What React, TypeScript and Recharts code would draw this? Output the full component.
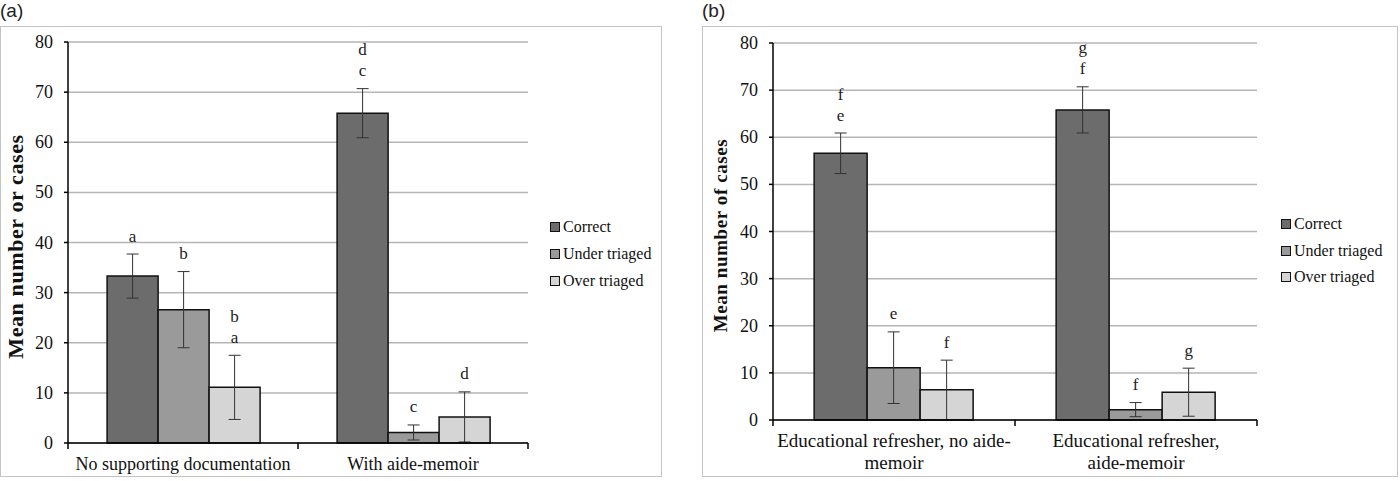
import { BarChart, Bar, XAxis, YAxis, CartesianGrid, ErrorBar, LabelList, Legend, Label } from 'recharts'

const SERIF = '"Liberation Serif", "Times New Roman", serif'
const SANS = '"Liberation Sans", Arial, sans-serif'

// panel (a)
const categoriesA = ['No supporting documentation', 'With aide-memoir']
const correctA = [33.3, 65.8]
const correctErrA = [4.4, 4.9]
const underA = [26.6, 2.1]
const underErrA = [7.6, 1.5]
const overA = [11.1, 5.2]
const overErrA = [6.4, 5.0]
const correctLettersA = ['a', 'c d']
const underLettersA = ['b', 'c']
const overLettersA = ['a b', 'd']

// panel (b)
const categoriesB = ['Educational refresher, no aide-\nmemoir', 'Educational refresher,\naide-memoir']
const correctB = [56.6, 65.8]
const correctErrB = [4.3, 4.9]
const underB = [11.1, 2.2]
const underErrB = [7.6, 1.5]
const overB = [6.4, 5.9]
const overErrB = [6.3, 5.1]
const correctLettersB = ['e f', 'f g']
const underLettersB = ['e', 'f']
const overLettersB = ['f', 'g']

const yTicks = [0, 10, 20, 30, 40, 50, 60, 70, 80]

const SERIES = [
  { key: 'correct', name: 'Correct', color: '#6c6c6c' },
  { key: 'under', name: 'Under triaged', color: '#9a9a9a' },
  { key: 'over', name: 'Over triaged', color: '#d5d5d5' },
]

const dataA = categoriesA.map((name, i) => ({
  name,
  correct: correctA[i], correctErr: correctErrA[i],
  under: underA[i], underErr: underErrA[i],
  over: overA[i], overErr: overErrA[i],
}))

const dataB = categoriesB.map((name, i) => ({
  name,
  correct: correctB[i], correctErr: correctErrB[i],
  under: underB[i], underErr: underErrB[i],
  over: overB[i], overErr: overErrB[i],
}))

// significance letters stacked above the error bar
function letterContent(letters: string[], errs: number[]) {
  return (props: any) => {
    const vb = props.viewBox && props.viewBox.width != null ? props.viewBox : props
    const { x, y, width, height } = vb
    const idx = props.index
    const value = Number(props.value)
    if (!value || !height) return null
    const ppu = height / value
    const errTop = y - errs[idx] * ppu
    const stack = (letters[idx] || '').split(' ').filter(Boolean)
    return (
      <g>
        {stack.map((ch, i) => (
          <text key={i} x={x + width / 2} y={errTop - 12.5 - i * 21} textAnchor="middle"
            fontFamily={SERIF} fontSize={17} fill="#222">{ch}</text>
        ))}
      </g>
    )
  }
}

function CategoryTick(props: any) {
  const { x, y, payload, index, fontSize } = props
  const lines = String(payload.value).split('\n')
  const half = payload.offset ?? 0
  return (
    <g>
      <line x1={x + half} x2={x + half} y1={y - 6} y2={y} stroke="#000" strokeWidth={1.5} />
      {index === 0 && <line x1={x - half} x2={x - half} y1={y - 6} y2={y} stroke="#000" strokeWidth={1.5} />}
      {lines.map((l, i) => (
        <text key={i} x={x} y={y + 21 + i * 22} textAnchor="middle" fontFamily={SERIF} fontSize={fontSize} fill="#111">{l}</text>
      ))}
    </g>
  )
}

function ValueTick(props: any) {
  const { x, y, payload } = props
  return (
    <text x={x} y={y + 6} textAnchor="end" fontFamily={SERIF} fontSize={18} fill="#111">{payload.value}</text>
  )
}

function LegendBox() {
  return (
    <div style={{ fontFamily: SERIF, fontSize: 16, color: '#111' }}>
      {SERIES.map((s) => (
        <div key={s.key} style={{ display: 'flex', alignItems: 'center', height: 26.7, whiteSpace: 'nowrap' }}>
          <span style={{ display: 'inline-block', width: 8, height: 8, background: s.color, border: '1px solid #111', marginRight: 3 }} />
          {s.name}
        </div>
      ))}
    </div>
  )
}

interface PanelProps {
  data: any[]
  width: number
  margin: { top: number; right: number; bottom: number; left: number }
  xAxisHeight: number
  xFontSize: number
  yLabel: string
  yLabelSize: number
  legendPos: { left: number; top: number }
  letters: string[][]
  errs: number[][]
}

function TriagePanel({ data, width, margin, xAxisHeight, xFontSize, yLabel, yLabelSize, legendPos, letters, errs }: PanelProps) {
  return (
    <BarChart width={width} height={481} data={data} margin={margin} barCategoryGap="17%" barGap={0}>
      <CartesianGrid vertical={false} stroke="#b5b5b5" strokeWidth={1.5} />
      <XAxis dataKey="name" height={xAxisHeight} axisLine={{ stroke: '#000', strokeWidth: 1.5 }}
        tickLine={false} tickSize={6} tickMargin={0} tick={<CategoryTick fontSize={xFontSize} />} interval={0} />
      <YAxis width={40} domain={[0, 80]} ticks={yTicks} interval={0}
        axisLine={{ stroke: '#000', strokeWidth: 1.5 }} tickLine={{ stroke: '#000', strokeWidth: 1.5 }}
        tickSize={4} tickMargin={11} tick={<ValueTick />}>
        <Label content={(p: any) => {
          const vb = p.viewBox
          const cx = vb.x - 13
          const cy = vb.y + vb.height / 2 + 4
          return (
            <text x={cx} y={cy} transform={`rotate(-90 ${cx} ${cy})`} textAnchor="middle" dominantBaseline="central"
              fontFamily={SERIF} fontWeight="bold" fontSize={yLabelSize} letterSpacing={0.6} fill="#111">{yLabel}</text>
          )
        }} />
      </YAxis>
      <Legend layout="vertical" align="center" verticalAlign="middle" content={<LegendBox />}
        wrapperStyle={{ left: legendPos.left, top: legendPos.top, width: 130 }} />
      {SERIES.map((s, si) => (
        <Bar key={s.key} dataKey={s.key} name={s.name} fill={s.color} stroke="#111" strokeWidth={1.5} isAnimationActive={false}>
          <ErrorBar dataKey={`${s.key}Err`} width={6} stroke="#333" strokeWidth={1} direction="y" />
          <LabelList dataKey={s.key} content={letterContent(letters[si], errs[si])} />
        </Bar>
      ))}
    </BarChart>
  )
}

export default function App() {
  return (
    <div style={{ position: 'absolute', left: 0, top: 0, width: 1400, height: 481, background: '#fff', overflow: 'hidden' }}>
      <div style={{ position: 'absolute', left: 0, top: 0, fontFamily: SANS, fontSize: 19, color: '#222' }}>(a)</div>
      <div style={{ position: 'absolute', left: 702, top: 0, fontFamily: SANS, fontSize: 19, color: '#222' }}>(b)</div>
      <div style={{ position: 'absolute', left: 0, top: 26, width: 660, height: 449, border: '1.5px solid #c4c4c4' }} />
      <div style={{ position: 'absolute', left: 702, top: 26, width: 694, height: 449, border: '1.5px solid #c4c4c4' }} />
      <div style={{ position: 'absolute', left: 0, top: 0 }}>
        <TriagePanel
          data={dataA}
          width={663}
          margin={{ top: 42, right: 135, bottom: 8, left: 28 }}
          xAxisHeight={30}
          xFontSize={18}
          yLabel="Mean number  or cases"
          yLabelSize={22}
          legendPos={{ left: 550, top: 214 }}
          letters={[correctLettersA, underLettersA, overLettersA]}
          errs={[correctErrA, underErrA, overErrA]}
        />
      </div>
      <div style={{ position: 'absolute', left: 700, top: 0 }}>
        <TriagePanel
          data={dataB}
          width={700}
          margin={{ top: 43, right: 143, bottom: 9, left: 33 }}
          xAxisHeight={52}
          xFontSize={19}
          yLabel="Mean number  of cases"
          yLabelSize={19}
          legendPos={{ left: 581, top: 210.5 }}
          letters={[correctLettersB, underLettersB, overLettersB]}
          errs={[correctErrB, underErrB, overErrB]}
        />
      </div>
    </div>
  )
}
